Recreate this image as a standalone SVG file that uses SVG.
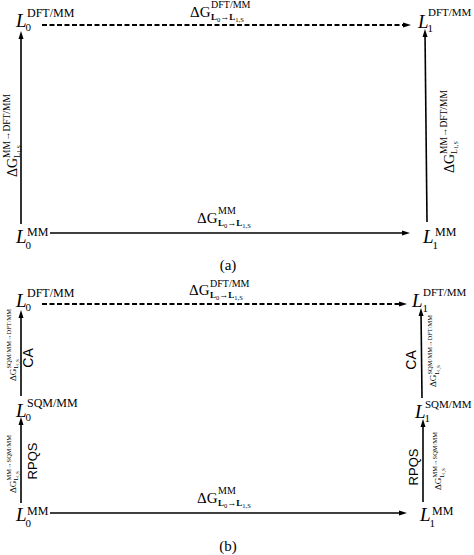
<svg xmlns="http://www.w3.org/2000/svg" width="474" height="555" viewBox="0 0 474 555">
<style>
.ln{stroke:#000;stroke-width:1.6;fill:none}
.dash{stroke-dasharray:5 2.5;stroke-width:1.8}
.m{font-family:"Liberation Serif",serif;fill:#000}
.L{font-family:"Liberation Serif",serif;font-style:italic;font-size:19px;fill:#000}
.sb{font-family:"Liberation Serif",serif;font-size:11px;fill:#000}
.sp{font-family:"Liberation Serif",serif;font-size:12px;fill:#000}
.spr{font-family:"Liberation Serif",serif;font-size:11px;fill:#000}
.sf{font-family:"Liberation Sans",Arial,sans-serif;fill:#000}
.dg{font-size:15px}
.bs{font-weight:bold}
</style>
<defs>
<marker id="ah" viewBox="0 0 8 6" refX="5" refY="3" markerWidth="8" markerHeight="6" markerUnits="userSpaceOnUse" orient="auto">
<path d="M0,0.5 L8,3 L0,5.5 z" fill="#000" stroke="none"/>
</marker>
</defs>
<rect width="474" height="555" fill="#fff"/>

<g id="connectors">
<line class="ln dash" x1="42" y1="25" x2="408" y2="25" marker-end="url(#ah)"/>
<line class="ln" x1="21" y1="224" x2="21" y2="34" marker-end="url(#ah)"/>
<line class="ln" x1="427" y1="222" x2="425" y2="32" marker-end="url(#ah)"/>
<line class="ln" x1="50" y1="233" x2="407" y2="233" marker-end="url(#ah)"/>
<line class="ln dash" x1="42" y1="304" x2="404" y2="304" marker-end="url(#ah)"/>
<line class="ln" x1="21" y1="396" x2="21" y2="313" marker-end="url(#ah)"/>
<line class="ln" x1="21" y1="503" x2="21" y2="420" marker-end="url(#ah)"/>
<line class="ln" x1="422" y1="398" x2="421" y2="311" marker-end="url(#ah)"/>
<line class="ln" x1="423" y1="502" x2="423" y2="422" marker-end="url(#ah)"/>
<line class="ln" x1="50" y1="513" x2="404" y2="513" marker-end="url(#ah)"/>
</g>

<g id="edge-labels">
<text class="m dg" x="190" y="17">ΔG</text>
<text class="m" x="211" y="8" font-size="10">DFT/MM</text>
<text class="m" x="211" y="20" font-size="9"><tspan class="bs">L</tspan><tspan font-size="6.5" dy="2">0</tspan><tspan dy="-2">→</tspan><tspan class="bs">L</tspan><tspan font-size="6.5" dy="2">1,S</tspan></text>
<text class="m dg" x="197" y="223">ΔG</text>
<text class="m" x="218" y="214" font-size="10">MM</text>
<text class="m" x="218" y="226" font-size="9"><tspan class="bs">L</tspan><tspan font-size="6.5" dy="2">0</tspan><tspan dy="-2">→</tspan><tspan class="bs">L</tspan><tspan font-size="6.5" dy="2">1,S</tspan></text>
<g transform="translate(17,177) rotate(-90)">
<text class="m" x="0" y="0" font-size="14">ΔG</text>
<text class="m" x="19" y="-7" font-size="9.5">MM→DFT/MM</text>
<text class="m" x="19" y="3" font-size="8"><tspan>L</tspan><tspan font-size="6" dy="1">1,S</tspan></text>
</g>
<g transform="translate(454,173) rotate(-90)">
<text class="m" x="0" y="0" font-size="14">ΔG</text>
<text class="m" x="19" y="-7" font-size="9.5">MM→DFT/MM</text>
<text class="m" x="19" y="3" font-size="8"><tspan>L</tspan><tspan font-size="6" dy="1">1,S</tspan></text>
</g>
<text class="m dg" x="189" y="295">ΔG</text>
<text class="m" x="210" y="287" font-size="10">DFT/MM</text>
<text class="m" x="210" y="298" font-size="9"><tspan class="bs">L</tspan><tspan font-size="6.5" dy="2">0</tspan><tspan dy="-2">→</tspan><tspan class="bs">L</tspan><tspan font-size="6.5" dy="2">1,S</tspan></text>
<text class="m dg" x="197" y="503">ΔG</text>
<text class="m" x="218" y="494" font-size="10">MM</text>
<text class="m" x="218" y="506" font-size="9"><tspan class="bs">L</tspan><tspan font-size="6.5" dy="2">0</tspan><tspan dy="-2">→</tspan><tspan class="bs">L</tspan><tspan font-size="6.5" dy="2">1,S</tspan></text>
<g transform="translate(15.5,381) rotate(-90)">
<text class="m" x="0" y="0" font-size="9">ΔG</text>
<text class="m" x="12.5" y="-4.5" font-size="6.5">SQM/MM→DFT/MM</text>
<text class="m" x="12.5" y="2.5" font-size="5.5">L<tspan font-size="4.5" dy="1">1,S</tspan></text>
</g>
<g transform="translate(15.5,493) rotate(-90)">
<text class="m" x="0" y="0" font-size="9">ΔG</text>
<text class="m" x="12.5" y="-4.5" font-size="6.5">MM→SQM/MM</text>
<text class="m" x="12.5" y="2.5" font-size="5.5">L<tspan font-size="4.5" dy="1">1,S</tspan></text>
</g>
<g transform="translate(436,387) rotate(-90)">
<text class="m" x="0" y="0" font-size="9">ΔG</text>
<text class="m" x="12.5" y="-4.5" font-size="6.5">SQM/MM→DFT/MM</text>
<text class="m" x="12.5" y="2.5" font-size="5.5">L<tspan font-size="4.5" dy="1">1,S</tspan></text>
</g>
<g transform="translate(441,490) rotate(-90)">
<text class="m" x="0" y="0" font-size="9">ΔG</text>
<text class="m" x="12.5" y="-4.5" font-size="6.5">MM→SQM/MM</text>
<text class="m" x="12.5" y="2.5" font-size="5.5">L<tspan font-size="4.5" dy="1">1,S</tspan></text>
</g>
<text class="sf" font-size="14" text-anchor="middle" transform="translate(33,358) rotate(-90)">CA</text>
<text class="sf" font-size="13" text-anchor="middle" transform="translate(37,461) rotate(-90)">RPQS</text>
<text class="sf" font-size="14" text-anchor="middle" transform="translate(416,360) rotate(-90)">CA</text>
<text class="sf" font-size="13" text-anchor="middle" transform="translate(418,467) rotate(-90)">RPQS</text>
</g>

<g id="a_L0_DFT"><text class="L" x="16" y="27">L</text><text class="sb" x="25.5" y="31">0</text><text class="sp" x="27" y="17">DFT/MM</text></g>
<g id="a_L1_DFT"><text class="L" x="418" y="28">L</text><text class="sb" x="427.5" y="32">1</text><text class="spr" x="428" y="16">DFT/MM</text></g>
<g id="a_L0_MM"><text class="L" x="16" y="243">L</text><text class="sb" x="25.5" y="249">0</text><text class="sp" x="27" y="236">MM</text></g>
<g id="a_L1_MM"><text class="L" x="423" y="243">L</text><text class="sb" x="432.5" y="249">1</text><text class="sp" x="435" y="236">MM</text></g>
<g id="caption_a"><text class="m" x="228" y="270" font-size="15" text-anchor="middle">(a)</text></g>

<g id="b_L0_DFT"><text class="L" x="16" y="307">L</text><text class="sb" x="25.5" y="311">0</text><text class="sp" x="27" y="297">DFT/MM</text></g>
<g id="b_L1_DFT"><text class="L" x="412" y="307">L</text><text class="sb" x="422.5" y="311.5">1</text><text class="spr" x="423" y="296">DFT/MM</text></g>
<g id="b_L0_SQM"><text class="L" x="16" y="417">L</text><text class="sb" x="25.5" y="421">0</text><text class="sp" x="27" y="407">SQM/MM</text></g>
<g id="b_L1_SQM"><text class="L" x="415" y="418">L</text><text class="sb" x="424.5" y="422">1</text><text class="spr" x="425" y="408">SQM/MM</text></g>
<g id="b_L0_MM"><text class="L" x="16" y="521">L</text><text class="sb" x="25.5" y="527">0</text><text class="sp" x="27" y="515">MM</text></g>
<g id="b_L1_MM"><text class="L" x="420" y="521">L</text><text class="sb" x="429.5" y="527">1</text><text class="sp" x="432" y="515">MM</text></g>
<g id="caption_b"><text class="m" x="228" y="551" font-size="15" text-anchor="middle">(b)</text></g>
</svg>
